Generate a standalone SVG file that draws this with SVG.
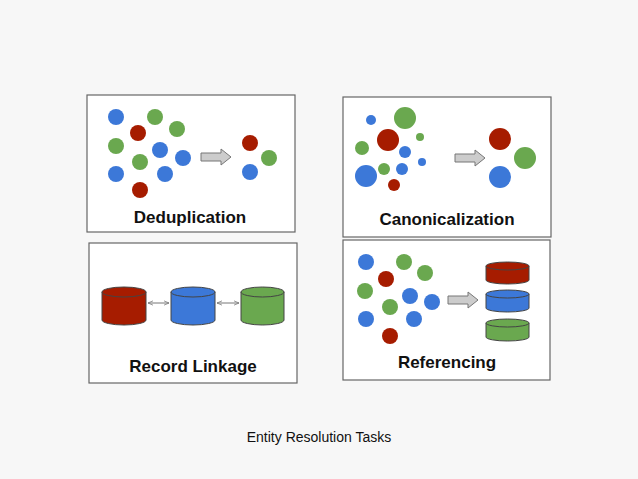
<svg xmlns="http://www.w3.org/2000/svg" width="638" height="479" viewBox="0 0 638 479">
<style>
.box{fill:#fff;stroke:#666;stroke-width:1.2}
.r{fill:#a61c00}.b{fill:#3c78d8}.g{fill:#6aa84f}
.cy{stroke:#444;stroke-width:1}
.lbl{font-family:"Liberation Sans",Arial,sans-serif;font-weight:bold;font-size:17px;text-anchor:middle;fill:#111}
.arr{fill:#ccc;stroke:#777;stroke-width:1}
.lk{stroke:#777;stroke-width:1;fill:none}
</style>
<defs>
<marker id="ah" viewBox="0 0 8 8" refX="7" refY="4" markerWidth="6" markerHeight="6" orient="auto-start-reverse"><path d="M0,1 L7,4 L0,7" fill="none" stroke="#777"/></marker>
</defs>
<rect width="638" height="479" fill="#f7f7f7"/>
<g id="dedup">
<rect class="box" x="87" y="95" width="208" height="137"/>
<circle class="b" cx="116" cy="117" r="8"/><circle class="g" cx="155" cy="117" r="8"/><circle class="r" cx="138" cy="133" r="8"/><circle class="g" cx="177" cy="129" r="8"/><circle class="g" cx="116" cy="146" r="8"/><circle class="b" cx="160" cy="150" r="8"/><circle class="b" cx="183" cy="158" r="8"/><circle class="g" cx="140" cy="162" r="8"/><circle class="b" cx="116" cy="174" r="8"/><circle class="b" cx="165" cy="174" r="8"/><circle class="r" cx="140" cy="190" r="8"/>
<path class="arr" d="M201,153 H221 V149 L231,157 L221,165 V161 H201 Z"/>
<circle class="r" cx="250" cy="143" r="8"/><circle class="g" cx="269" cy="158" r="8"/><circle class="b" cx="250" cy="172" r="8"/>
<text class="lbl" x="190" y="223">Deduplication</text>
</g>
<g id="canon">
<rect class="box" x="343" y="97" width="208" height="140"/>
<circle class="b" cx="371" cy="120" r="5"/><circle class="g" cx="405" cy="118" r="11"/><circle class="r" cx="388" cy="140" r="11"/><circle class="g" cx="420" cy="137" r="4"/><circle class="g" cx="362" cy="148" r="7"/><circle class="b" cx="405" cy="152" r="6"/><circle class="b" cx="422" cy="162" r="4"/><circle class="b" cx="366" cy="176" r="11"/><circle class="g" cx="384" cy="169" r="6"/><circle class="b" cx="402" cy="169" r="6"/><circle class="r" cx="394" cy="185" r="6"/>
<path class="arr" d="M455,154 H475 V150 L485,158 L475,166 V162 H455 Z"/>
<circle class="r" cx="500" cy="139" r="11"/><circle class="g" cx="525" cy="158" r="11"/><circle class="b" cx="500" cy="177" r="11"/>
<text class="lbl" x="447" y="225">Canonicalization</text>
</g>
<g id="linkage">
<rect class="box" x="89" y="243" width="208" height="140"/>
<path class="cy r" d="M102,292 V320 A22,5 0 0 0 146,320 V292"/><ellipse class="cy r" cx="124" cy="292" rx="22" ry="5"/>
<path class="cy b" d="M171,292 V320 A22,5 0 0 0 215,320 V292"/><ellipse class="cy b" cx="193" cy="292" rx="22" ry="5"/>
<path class="cy g" d="M241,292 V320 A21.5,5 0 0 0 284,320 V292"/><ellipse class="cy g" cx="262.5" cy="292" rx="21.5" ry="5"/>
<text class="lbl" x="193" y="372">Record Linkage</text>
</g>
<g id="referencing">
<rect class="box" x="343" y="240" width="207" height="140"/>
<circle class="b" cx="366" cy="262" r="8"/><circle class="g" cx="404" cy="262" r="8"/><circle class="r" cx="386" cy="279" r="8"/><circle class="g" cx="425" cy="273" r="8"/><circle class="g" cx="365" cy="291" r="8"/><circle class="b" cx="410" cy="296" r="8"/><circle class="b" cx="432" cy="302" r="8"/><circle class="g" cx="390" cy="307" r="8"/><circle class="b" cx="366" cy="319" r="8"/><circle class="b" cx="414" cy="319" r="8"/><circle class="r" cx="390" cy="336" r="8"/>
<path class="arr" d="M448,296 H468 V292 L478,300 L468,308 V304 H448 Z"/>
<path class="cy r" d="M486,266 V280 A21.5,4 0 0 0 529,280 V266"/><ellipse class="cy r" cx="507.5" cy="266" rx="21.5" ry="4"/>
<path class="cy b" d="M486,294 V308 A21.5,4 0 0 0 529,308 V294"/><ellipse class="cy b" cx="507.5" cy="294" rx="21.5" ry="4"/>
<path class="cy g" d="M486,323 V337 A21.5,4 0 0 0 529,337 V323"/><ellipse class="cy g" cx="507.5" cy="323" rx="21.5" ry="4"/>
<text class="lbl" x="447" y="368">Referencing</text>
</g>
<g id="connectors">
<line class="lk" x1="148" y1="303" x2="169" y2="303" marker-start="url(#ah)" marker-end="url(#ah)"/>
<line class="lk" x1="217" y1="303" x2="239" y2="303" marker-start="url(#ah)" marker-end="url(#ah)"/>
</g>
<text x="319" y="442" font-family="Liberation Sans,Arial,sans-serif" font-size="14" text-anchor="middle" fill="#111">Entity Resolution Tasks</text>
</svg>
